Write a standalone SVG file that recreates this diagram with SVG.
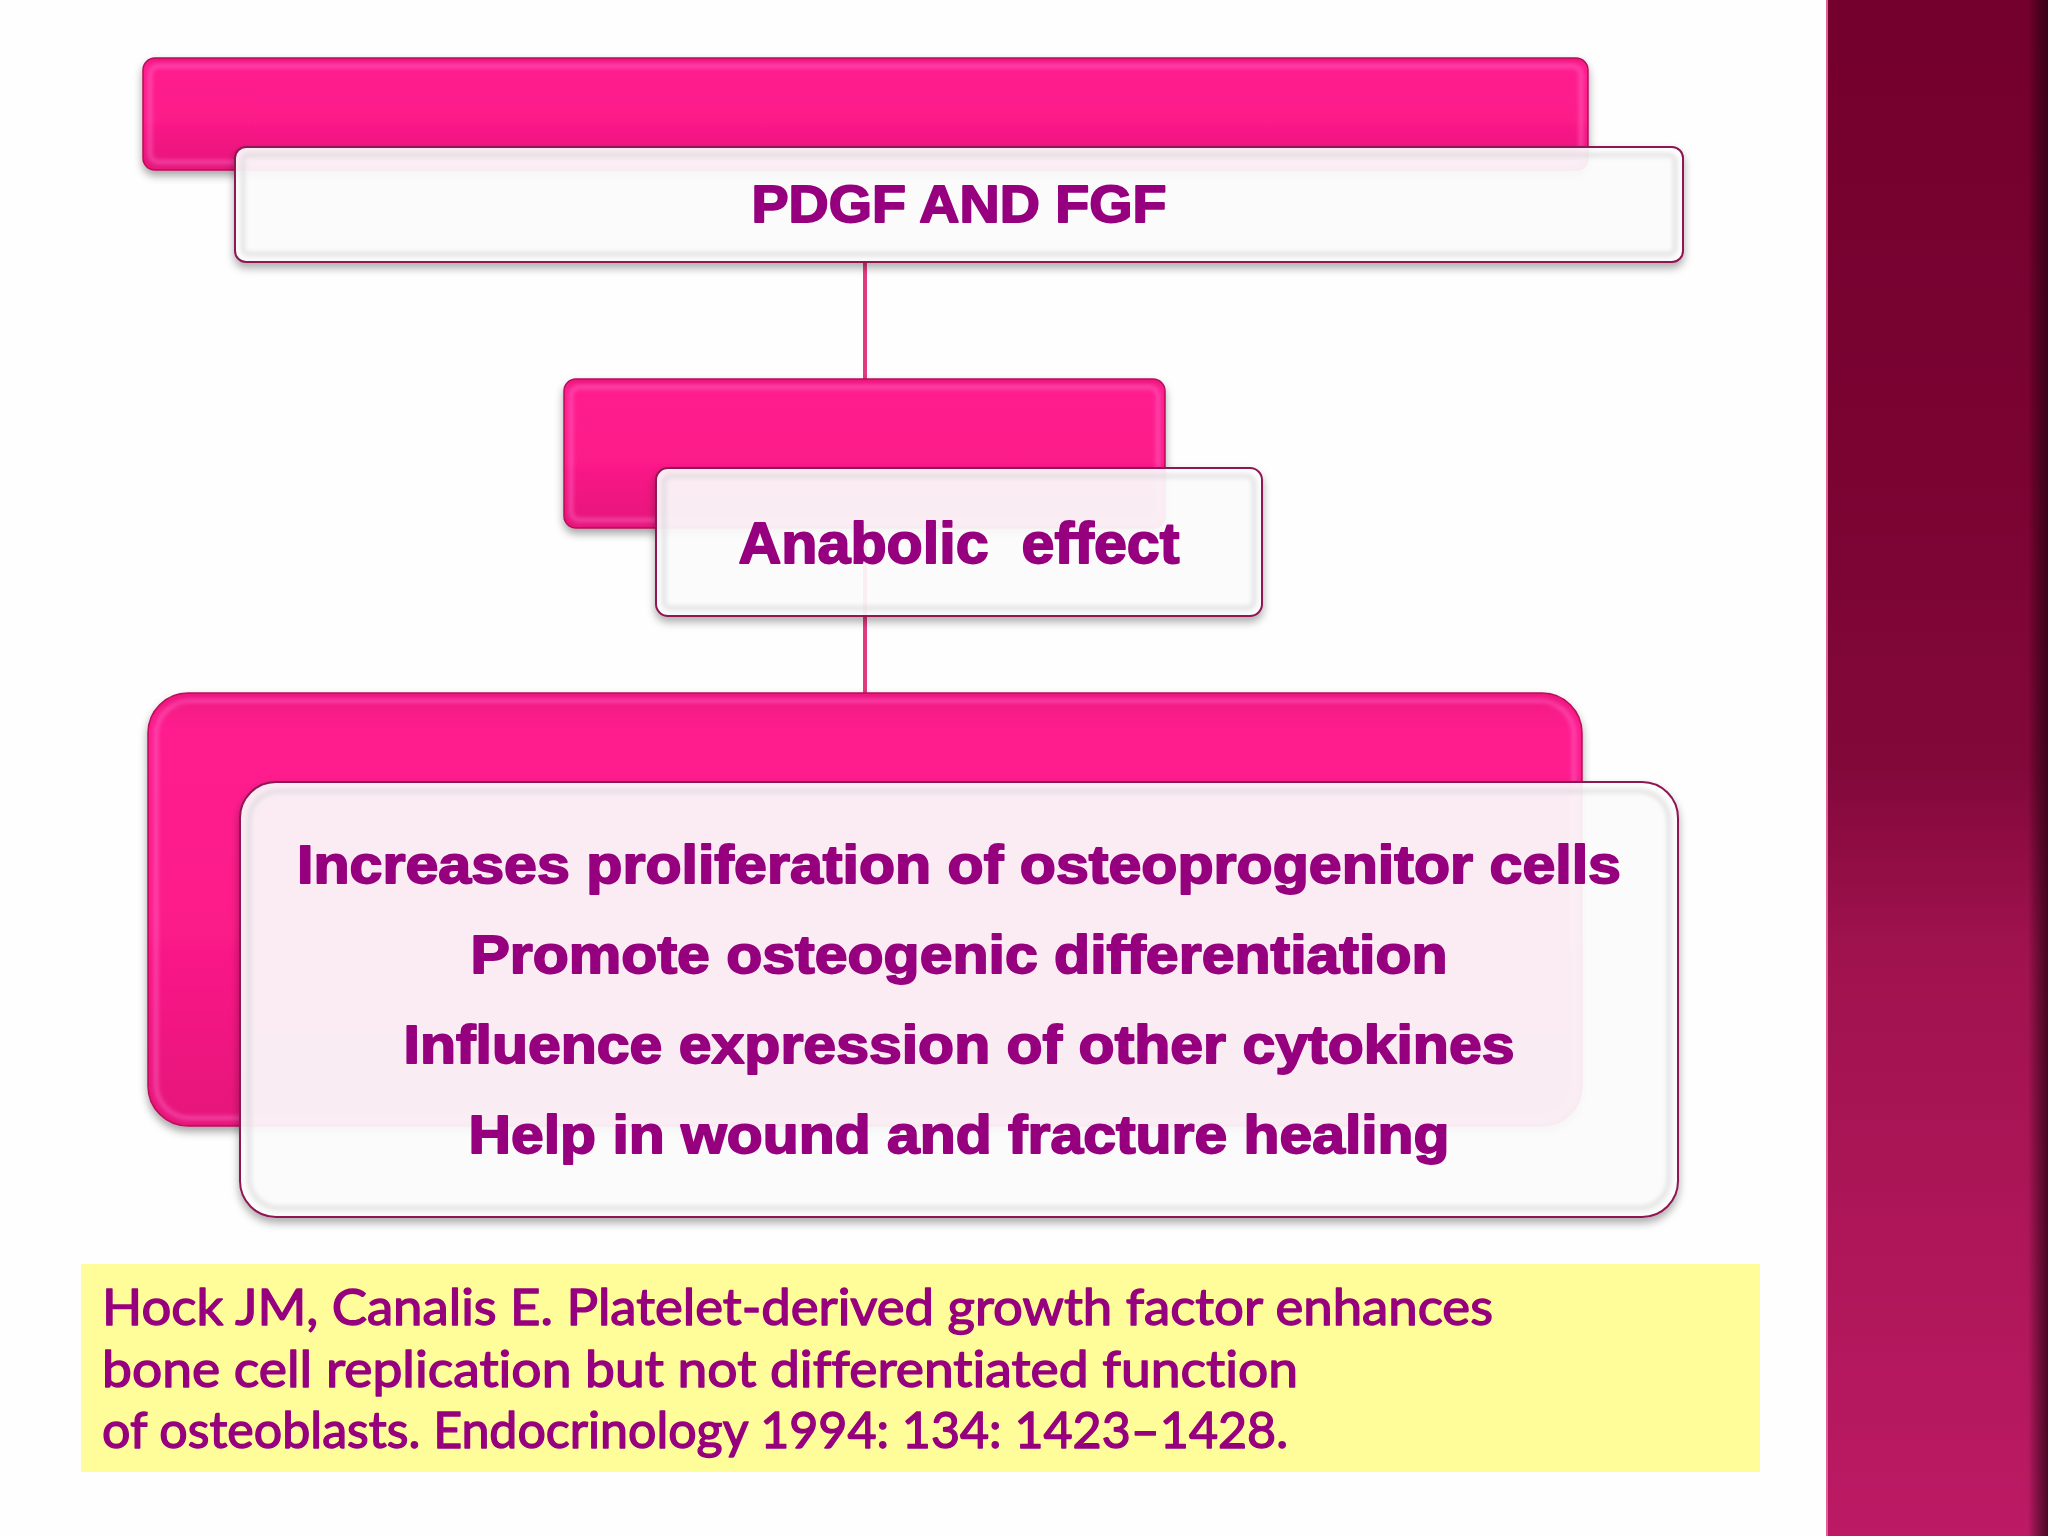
<svg xmlns="http://www.w3.org/2000/svg" width="2048" height="1536" viewBox="0 0 2048 1536">
  <defs>
    <linearGradient id="pinkG" x1="0" y1="0" x2="0" y2="1">
      <stop offset="0" stop-color="#EE1680"/>
      <stop offset="0.08" stop-color="#FF1F8E"/>
      <stop offset="0.55" stop-color="#FC1A89"/>
      <stop offset="1" stop-color="#E5127A"/>
    </linearGradient>
    <linearGradient id="bandG" x1="0" y1="0" x2="0" y2="1">
      <stop offset="0" stop-color="#74002D"/>
      <stop offset="0.3" stop-color="#7A0332"/>
      <stop offset="0.5" stop-color="#82083A"/>
      <stop offset="0.62" stop-color="#A0124E"/>
      <stop offset="1" stop-color="#BC1A64"/>
    </linearGradient>
    <linearGradient id="edgeG" x1="0" y1="0" x2="1" y2="0">
      <stop offset="0" stop-color="#000000" stop-opacity="0"/>
      <stop offset="1" stop-color="#2A0012" stop-opacity="0.75"/>
    </linearGradient>
    <filter id="shadow" x="-5%" y="-10%" width="110%" height="130%">
      <feDropShadow dx="0" dy="5" stdDeviation="4" flood-color="#000" flood-opacity="0.35"/>
    </filter>
    <filter id="soft" x="-5%" y="-10%" width="110%" height="130%">
      <feGaussianBlur stdDeviation="2"/>
    </filter>
  </defs>
  <style>
    .pink { fill: url(#pinkG); stroke: #B80C58; stroke-width: 1.5; filter: url(#shadow); }
    .pinkHi { fill: none; stroke: #FF70C8; stroke-width: 4; stroke-opacity: 0.55; filter: url(#soft); }
    .white { fill: #FFFFFF; fill-opacity: 0.9; stroke: #8E1852; stroke-width: 2; filter: url(#shadow); }
    .bevel { fill: none; stroke: #D4D4D4; stroke-width: 5; stroke-opacity: 0.55; filter: url(#soft); }
    .title { font-family: "Liberation Sans", Arial, sans-serif; font-weight: bold; fill: #96007E; stroke: #96007E; stroke-width: 1.8; stroke-linejoin: round; text-anchor: middle; }
    .cite { font-family: Lato, "Liberation Sans", sans-serif; font-weight: normal; fill: #96007E; stroke: #96007E; stroke-width: 1.4; stroke-linejoin: round; font-size: 51px; font-variant-ligatures: none; }
    .conn { stroke: #E23A7E; stroke-width: 4; fill: none; }
  </style>

  <rect x="0" y="0" width="2048" height="1536" fill="#FEFEFE"/>

  <g id="side-band">
    <rect x="1826" y="0" width="222" height="1536" fill="url(#bandG)"/>
    <rect x="2028" y="0" width="20" height="1536" fill="url(#edgeG)"/>
    <rect x="1826" y="0" width="2" height="1536" fill="#E0609A"/>
  </g>

  <g id="connectors">
    <line class="conn" x1="865" y1="262" x2="865" y2="380"/>
    <line class="conn" x1="865" y1="470" x2="865" y2="694"/>
  </g>

  <g id="node-pdgf">
    <rect class="pink" x="143" y="58" width="1445" height="112" rx="12"/>
    <rect class="pinkHi" x="150" y="66" width="1431" height="96" rx="8"/>
    <rect class="white" x="235" y="147" width="1448" height="115" rx="11"/>
    <rect class="bevel" x="243" y="155" width="1432" height="99" rx="6"/>
    <text class="title" x="959" y="222" font-size="52" textLength="415" lengthAdjust="spacingAndGlyphs">PDGF AND FGF</text>
  </g>

  <g id="node-anabolic">
    <rect class="pink" x="564" y="379" width="601" height="149" rx="12"/>
    <rect class="pinkHi" x="571" y="387" width="587" height="133" rx="8"/>
    <rect class="white" x="656" y="468" width="606" height="148" rx="12"/>
    <rect class="bevel" x="664" y="476" width="590" height="132" rx="7"/>
    <text class="title" x="959" y="563" font-size="57" textLength="441" lengthAdjust="spacingAndGlyphs" xml:space="preserve">Anabolic  effect</text>
  </g>

  <g id="node-effects">
    <rect class="pink" x="148" y="693" width="1434" height="433" rx="40"/>
    <rect class="pinkHi" x="156" y="701" width="1418" height="417" rx="34"/>
    <rect class="white" x="240" y="782" width="1438" height="435" rx="36"/>
    <rect class="bevel" x="249" y="791" width="1420" height="417" rx="30"/>
    <text class="title" x="959" y="883" font-size="53" textLength="1324" lengthAdjust="spacingAndGlyphs">Increases proliferation of osteoprogenitor cells</text>
    <text class="title" x="959" y="973" font-size="53" textLength="977" lengthAdjust="spacingAndGlyphs">Promote osteogenic differentiation</text>
    <text class="title" x="959" y="1063" font-size="53" textLength="1111" lengthAdjust="spacingAndGlyphs">Influence expression of other cytokines</text>
    <text class="title" x="959" y="1153" font-size="53" textLength="981" lengthAdjust="spacingAndGlyphs">Help in wound and fracture healing</text>
  </g>

  <g id="citation">
    <rect x="81" y="1264" width="1679" height="208" fill="#FFFD99"/>
    <text class="cite" x="102" y="1325" textLength="1391" lengthAdjust="spacingAndGlyphs">Hock JM, Canalis E. Platelet-derived growth factor enhances</text>
    <text class="cite" x="102" y="1387" textLength="1196" lengthAdjust="spacingAndGlyphs">bone cell replication but not differentiated function</text>
    <text class="cite" x="102" y="1448" textLength="1186" lengthAdjust="spacingAndGlyphs">of osteoblasts. Endocrinology 1994: 134: 1423–1428.</text>
  </g>
</svg>
